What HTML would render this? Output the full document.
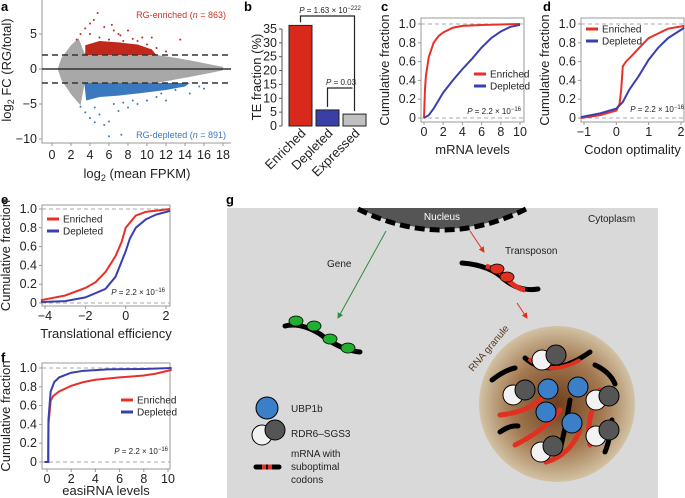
<!DOCTYPE html>
<html><head><meta charset="utf-8">
<style>
html,body{margin:0;padding:0;background:#fff;}
svg{display:block;font-family:"Liberation Sans",Arial,sans-serif;}
.t{font-size:12.5px;fill:#222;}
.ti{font-size:13px;fill:#222;}
.pl{font-size:13px;font-weight:bold;fill:#000;}
</style></head>
<body>
<svg id="fig" width="685" height="498" viewBox="0 0 685 498">
<text class="pl" x="1" y="11">a</text>
<text class="pl" x="244" y="11">b</text>
<text class="pl" x="381" y="11">c</text>
<text class="pl" x="543" y="11">d</text>
<text class="pl" x="1" y="204">e</text>
<text class="pl" x="1" y="362">f</text>
<text class="pl" x="226" y="204">g</text>
<g id="ga"></g>
<g id="gb"></g>
<g id="gc"></g>
<g id="gd"></g>
<g id="ge"></g>
<g id="gf"></g>

<g>
 <defs>
  <radialGradient id="gran" cx="0.5" cy="0.5" r="0.5">
   <stop offset="0" stop-color="#6e3f1c"/><stop offset="0.6" stop-color="#a47a52"/><stop offset="1" stop-color="#d2c2a4"/>
  </radialGradient>
  <marker id="ag" markerWidth="6" markerHeight="6" refX="5" refY="3" orient="auto"><path d="M0,0 L6,3 L0,6 z" fill="#2e8b40"/></marker>
  <marker id="ar" markerWidth="6" markerHeight="6" refX="5" refY="3" orient="auto"><path d="M0,0 L6,3 L0,6 z" fill="#e03020"/></marker>
 </defs>
 <rect x="227" y="208" width="431" height="290" fill="#d9d9d9"/>
 <path d="M358,208 Q442,250 526,208 Z" fill="#555"/>
 <path d="M358,209 Q442,251 526,209" fill="none" stroke="#000" stroke-width="5" stroke-dasharray="10,5"/>
 <text x="442" y="220" text-anchor="middle" style="font-size:10px;fill:#fff">Nucleus</text>
 <text x="588" y="222" style="font-size:10px;fill:#222">Cytoplasm</text>
 <text x="327" y="267" style="font-size:10px;fill:#222">Gene</text>
 <text x="505" y="254" style="font-size:10px;fill:#222">Transposon</text>
 <line x1="386" y1="231" x2="338" y2="318" stroke="#2e8b40" stroke-width="1" marker-end="url(#ag)"/>
 <line x1="470" y1="231" x2="484" y2="252" stroke="#e03020" stroke-width="1" marker-end="url(#ar)"/>
 <line x1="517" y1="303" x2="527" y2="318" stroke="#e03020" stroke-width="1" marker-end="url(#ar)"/>
 <g>
  <path d="M285,326 Q300,322 320,334 Q340,350 360,352" fill="none" stroke="#000" stroke-width="5" stroke-linecap="round"/>
  <ellipse cx="296" cy="321" rx="7" ry="5" fill="#20b030" stroke="#000" stroke-width="0.8"/>
  <ellipse cx="314" cy="326" rx="7" ry="5" fill="#20b030" stroke="#000" stroke-width="0.8"/>
  <ellipse cx="330" cy="339" rx="7" ry="5" fill="#20b030" stroke="#000" stroke-width="0.8"/>
  <ellipse cx="348" cy="348" rx="7" ry="5" fill="#20b030" stroke="#000" stroke-width="0.8"/>
 </g>
 <g>
  <path d="M462,263 Q490,265 505,280 Q520,292 538,289" fill="none" stroke="#000" stroke-width="5" stroke-linecap="round"/>
  <path d="M486,266 Q500,270 510,282 Q518,289 525,290" fill="none" stroke="#e03020" stroke-width="5"/>
  <ellipse cx="497" cy="269" rx="7" ry="5" fill="#e03020" stroke="#000" stroke-width="0.8"/>
  <ellipse cx="507" cy="277" rx="7" ry="5" fill="#e03020" stroke="#000" stroke-width="0.8"/>
 </g>
 <circle cx="557" cy="404" r="78" fill="url(#gran)"/>
 <text x="0" y="0" transform="translate(473,372) rotate(-50)" style="font-size:10px;fill:#5a3a20">RNA granule</text>
 <g stroke-linecap="round">
  <path d="M525,358 Q550,380 590,352" fill="none" stroke="#000" stroke-width="5"/>
  <path d="M530,360 Q550,376 580,360" fill="none" stroke="#e03020" stroke-width="4" stroke-dasharray="8,3"/>
  <path d="M492,380 Q505,370 515,368" fill="none" stroke="#000" stroke-width="5"/>
  <path d="M595,365 Q610,372 615,384" fill="none" stroke="#000" stroke-width="5"/>
  <path d="M500,432 Q510,425 518,426" fill="none" stroke="#000" stroke-width="5"/>
  <path d="M500,415 Q530,412 545,395" fill="none" stroke="#e03020" stroke-width="5" stroke-dasharray="8,3"/>
  <path d="M515,445 Q545,430 560,410" fill="none" stroke="#e03020" stroke-width="5" stroke-dasharray="8,3"/>
  <path d="M570,400 Q565,430 560,450" fill="none" stroke="#000" stroke-width="5"/>
  <path d="M600,390 Q585,420 590,445" fill="none" stroke="#e03020" stroke-width="5" stroke-dasharray="8,3"/>
  <path d="M546,462 Q570,455 580,430" fill="none" stroke="#e03020" stroke-width="5" stroke-dasharray="8,3"/>
  <path d="M612,420 Q610,440 605,452" fill="none" stroke="#000" stroke-width="5"/>
  <circle cx="542" cy="360" r="10" fill="#f2f2f2" stroke="#000"/><circle cx="556" cy="355" r="10" fill="#555" stroke="#000"/>
  <circle cx="513" cy="395" r="10" fill="#f2f2f2" stroke="#000"/><circle cx="525" cy="390" r="10" fill="#555" stroke="#000"/>
  <circle cx="596" cy="400" r="10" fill="#f2f2f2" stroke="#000"/><circle cx="609" cy="396" r="10" fill="#555" stroke="#000"/>
  <circle cx="596" cy="436" r="10" fill="#f2f2f2" stroke="#000"/><circle cx="609" cy="430" r="10" fill="#555" stroke="#000"/>
  <circle cx="541" cy="452" r="10" fill="#f2f2f2" stroke="#000"/><circle cx="553" cy="446" r="10" fill="#555" stroke="#000"/>
  <circle cx="548" cy="389" r="10" fill="#3a7fc8" stroke="#000"/>
  <circle cx="578" cy="387" r="10" fill="#3a7fc8" stroke="#000"/>
  <circle cx="546" cy="412" r="10" fill="#3a7fc8" stroke="#000"/>
  <circle cx="572" cy="423" r="10" fill="#3a7fc8" stroke="#000"/>
 </g>
 <g>
  <circle cx="267" cy="408" r="11" fill="#3a7fc8" stroke="#000"/>
  <text x="291" y="412" style="font-size:10px;fill:#222">UBP1b</text>
  <circle cx="262" cy="435" r="10" fill="#f2f2f2" stroke="#000"/><circle cx="275" cy="430" r="10" fill="#555" stroke="#000"/>
  <text x="291" y="437" style="font-size:10px;fill:#222">RDR6–SGS3</text>
  <path d="M256,467 L279,467" stroke="#000" stroke-width="5" stroke-linecap="round"/>
  <path d="M262,467 L274,467" stroke="#e03020" stroke-width="5" stroke-dasharray="4,2"/>
  <text style="font-size:10px;fill:#222"><tspan x="291" y="457">mRNA with</tspan><tspan x="291" y="470">suboptimal</tspan><tspan x="291" y="483">codons</tspan></text>
 </g>
</g>
</svg>
<script>
// ---------- Panel a data ----------
const maUpperEnvelope = [[0.6,0],[1,1.6],[2,3.4],[2.8,4.4],[3.4,2.3],[6,2.1],[11,2],[13,1.6],[15,1.1],[16.5,0.7],[18,0.3]];
const maLowerEnvelope = [[0.6,0],[1,-1.6],[2,-3.6],[3,-5.2],[3.4,-2.3],[6,-2.1],[11,-2],[13,-1.5],[15,-1],[16.5,-0.6],[18,-0.2]];
const maRedDense = [[3.5,2],[3.5,3.4],[5,4],[7,3.8],[9,3.5],[10.5,2.8],[11,2]];
const maBlueDense = [[3.4,-2],[3.6,-4.5],[5,-4],[7,-3.8],[9,-3.5],[12,-3],[14,-2.5],[14.5,-2]];
const maRedPoints = [[4.8,8],[4.4,7],[5.5,6],[6.3,6.3],[7,5],[8,5.5],[9.5,4.5],[10.5,4.5],[13.5,4.2],[5,4.5],[6,4.2],[7.5,4],[8.5,4.3],[9,4],[11,3],[12,2.5],[4,5],[6.5,5.5],[7.2,4.8],[10,3.5],[2.6,4.2],[3,5],[3.5,5.8],[4,6.5]];
const maBluePoints = [[6,-9.6],[7.3,-9.4],[5.5,-8],[6,-7.5],[7,-6],[8,-5.5],[9,-5],[10,-4.5],[11,-4],[12,-4.5],[13,-3],[14.5,-3.5],[15.5,-2.5],[16,-2.8],[5,-6.5],[6.5,-5],[8.5,-4.5],[4.5,-5.5],[7.5,-4.8],[11.5,-3.5],[3,-5.4],[3.5,-6.2],[4,-7],[4.5,-7.6]];
const maXTicks = [0,2,4,6,8,10,12,14,16,18];
const maYTicks = [5,0,-5,-10];
// ---------- Panel b data ----------
const teCategories = ["Enriched","Depleted","Expressed"];
const teValues = [36.3,5.8,4.3];
const teTicks = [0,5,10,15,20,25,30,35];
// ---------- Panel c ----------
const cEnriched = [[0,0],[0.1,0.3],[0.2,0.45],[0.5,0.65],[1,0.8],[1.5,0.87],[2,0.91],[3,0.96],[4,0.98],[6,0.99],[10,1.0]];
const cDepleted = [[0,0],[0.5,0.03],[1,0.1],[2,0.27],[3,0.4],[4,0.52],[5,0.63],[6,0.75],[7,0.85],[8,0.92],[9,0.97],[10,0.99]];
const cXTicks = [0,2,4,6,8,10];
// ---------- Panel d ----------
const dEnriched = [[-1.1,0],[-0.5,0.03],[0,0.08],[0.1,0.15],[0.15,0.3],[0.2,0.55],[0.3,0.6],[0.5,0.67],[0.8,0.78],[1.0,0.85],[1.3,0.9],[1.6,0.95],[2.1,0.98]];
const dDepleted = [[-1.1,0.01],[-0.5,0.05],[0,0.1],[0.2,0.17],[0.4,0.3],[0.7,0.45],[1.0,0.62],[1.3,0.75],[1.6,0.85],[2.1,0.96]];
const dXTicks = [-1,0,1,2];
// ---------- Panel e ----------
const eEnriched = [[-4.2,0.03],[-3,0.08],[-2,0.16],[-1.5,0.22],[-1,0.33],[-0.5,0.5],[-0.2,0.65],[0,0.8],[0.5,0.93],[1,0.97],[2.2,1.0]];
const eDepleted = [[-4.2,0.01],[-3,0.02],[-2,0.06],[-1,0.15],[-0.5,0.28],[0,0.55],[0.2,0.68],[0.5,0.8],[1,0.89],[1.5,0.94],[2.2,0.98]];
const eXTicks = [-4,-2,0,2];
// ---------- Panel f ----------
const fEnriched = [[-0.2,0],[0.1,0],[0.12,0.4],[0.3,0.65],[0.5,0.7],[1,0.75],[2,0.81],[3,0.85],[4,0.875],[6,0.9],[8,0.92],[9,0.94],[10.3,0.98]];
const fDepleted = [[-0.2,0],[0.1,0],[0.12,0.45],[0.3,0.75],[0.6,0.85],[1,0.9],[2,0.95],[3,0.97],[5,0.985],[8,0.99],[10.3,1.0]];
const fXTicks = [0,2,4,6,8,10];
const cdfYTicks = [0,0.2,0.4,0.6,0.8,1.0];

const NS="http://www.w3.org/2000/svg";
function mk(parent,tag,attrs,text){const e=document.createElementNS(NS,tag);for(const k in attrs)e.setAttribute(k,attrs[k]);if(text!==undefined)e.textContent=text;parent.appendChild(e);return e;}
function lin(d0,d1,r0,r1){return v=>r0+(v-d0)/(d1-d0)*(r1-r0);}

// ---------- Panel a ----------
(function(){
 const g=document.getElementById('ga');
 const X=lin(0,18,52,223), Y=lin(0,5,69,34);
 const box=mk(g,'path',{d:'M42,0 L42,143 L231,143',fill:'none',stroke:'#999','stroke-width':1});
 
 
 const env=maUpperEnvelope.map(p=>X(p[0])+','+Y(p[1])).concat(maLowerEnvelope.slice().reverse().map(p=>X(p[0])+','+Y(p[1])));
 const cloud=mk(g,'polygon',{points:env.join(' '),fill:'#a8a8a8'});
 
 
 const rd=mk(g,'polygon',{points:maRedDense.map(p=>X(p[0])+','+Y(p[1])).join(' '),fill:'#c0281c'});
 
 
 const bd=mk(g,'polygon',{points:maBlueDense.map(p=>X(p[0])+','+Y(p[1])).join(' '),fill:'#3a78c0'});
 
 
 maRedPoints.forEach(p=>{const c=mk(g,'circle',{cx:X(p[0]),cy:Y(p[1]),r:1,fill:'#c0281c'});
  
  });
 maBluePoints.forEach(p=>{const c=mk(g,'circle',{cx:X(p[0]),cy:Y(p[1]),r:1,fill:'#3a78c0'});
  
  });
 mk(g,'line',{x1:42,x2:231,y1:Y(0),y2:Y(0),stroke:'#333','stroke-width':1.5});
 mk(g,'line',{x1:42,x2:231,y1:Y(2),y2:Y(2),stroke:'#333','stroke-width':1.5,'stroke-dasharray':'6,4'});
 mk(g,'line',{x1:42,x2:231,y1:Y(-2),y2:Y(-2),stroke:'#333','stroke-width':1.5,'stroke-dasharray':'6,4'});
 maXTicks.forEach(v=>{mk(g,'line',{x1:X(v),x2:X(v),y1:143,y2:146,stroke:'#999'});
  const t=mk(g,'text',{x:X(v),y:159,'text-anchor':'middle',class:'t'},String(v));
  
  });
 maYTicks.forEach(v=>{mk(g,'line',{x1:39,x2:42,y1:Y(v),y2:Y(v),stroke:'#999'});
  const t=mk(g,'text',{x:37,y:Y(v)+4,'text-anchor':'end',class:'t'},v<0?'\u2212'+(-v):String(v));
  
  });
 const xt=mk(g,'text',{x:137,y:178,'text-anchor':'middle',class:'ti'});
 xt.innerHTML='log<tspan dy="3" font-size="9">2</tspan><tspan dy="-3"> (mean FPKM)</tspan>';
 
 
 const yt=mk(g,'text',{transform:'translate(11,70) rotate(-90)','text-anchor':'middle',class:'ti'});
 yt.innerHTML='log<tspan dy="3" font-size="9">2</tspan><tspan dy="-3"> FC (RG/total)</tspan>';
 
 
 const l1=mk(g,'text',{x:226,y:18,'text-anchor':'end',style:'font-size:9px;fill:#d03020'});
 l1.innerHTML='RG-enriched (<tspan font-style="italic">n</tspan> = 863)';
 
 
 const l2=mk(g,'text',{x:226,y:138,'text-anchor':'end',style:'font-size:9px;fill:#3a78c0'});
 l2.innerHTML='RG-depleted (<tspan font-style="italic">n</tspan> = 891)';
 
 
})();

// ---------- Panel b ----------
(function(){
 const g=document.getElementById('gb');
 const Y=lin(0,35,126,29);
 const colors=['#d9281c','#3a3fa8','#c0c0c0'];
 const xs=[289,316,343], w=23;
 mk(g,'line',{x1:282,x2:282,y1:Y(0),y2:Y(35),stroke:'#555'});
 teTicks.forEach(v=>{mk(g,'line',{x1:279,x2:282,y1:Y(v),y2:Y(v),stroke:'#555'});
  const t=mk(g,'text',{x:277,y:Y(v)+4,'text-anchor':'end',class:'t'},String(v));
  
  });
 teValues.forEach((v,i)=>{const r=mk(g,'rect',{x:xs[i],y:Y(v),width:w,height:Y(0)-Y(v),fill:colors[i],stroke:'#222','stroke-width':1});
  
  
  const t=mk(g,'text',{transform:`translate(${xs[i]+w/2+6},${Y(0)+8}) rotate(-45)`,'text-anchor':'end',class:'ti'},teCategories[i]);
  
  });
 mk(g,'path',{d:`M${xs[0]+w/2},${Y(teValues[0])-3} V16 H${xs[2]+w/2} V${Y(teValues[2])-3}`,fill:'none',stroke:'#222','stroke-width':1.2});
 mk(g,'path',{d:`M${xs[1]+w/2},${Y(teValues[1])-3} V88 H${xs[2]+w/2-2}`,fill:'none',stroke:'#222','stroke-width':1.2});
 const p1=mk(g,'text',{x:330,y:13,'text-anchor':'middle',style:'font-size:8px;fill:#222'});
 p1.innerHTML='<tspan font-style="italic">P</tspan> = 1.63 × 10<tspan dy="-3" font-size="6">−222</tspan>';
 
 
 const p2=mk(g,'text',{x:341,y:85,'text-anchor':'middle',style:'font-size:8px;fill:#222'});
 p2.innerHTML='<tspan font-style="italic">P</tspan> = 0.03';
 
 
 const yt=mk(g,'text',{transform:'translate(261,77) rotate(-90)','text-anchor':'middle',class:'ti'},'TE fraction (%)');
 
 
})();

// ---------- CDF panels ----------
function cdf(id,box,xd,xr,yr,xt,en,de,xTitle,legPos,pPos,pfx,titleOff){
 const g=document.getElementById(id);
 const X=lin(xd[0],xd[1],xr[0],xr[1]), Y=lin(0,1,yr[0],yr[1]);
 const fr=mk(g,'rect',{x:box[0],y:box[1],width:box[2]-box[0],height:box[3]-box[1],fill:'none',stroke:'#999'});
 
 
 [0,1].forEach(v=>mk(g,'line',{x1:box[0],x2:box[2],y1:Y(v),y2:Y(v),stroke:'#aaa','stroke-dasharray':'4,3'}));
 xt.forEach(v=>{mk(g,'line',{x1:X(v),x2:X(v),y1:box[3],y2:box[3]+3,stroke:'#999'});
  const t=mk(g,'text',{x:X(v),y:box[3]+14,'text-anchor':'middle',class:'t'},v<0?'\u2212'+(-v):String(v));
  
  });
 cdfYTicks.forEach(v=>{mk(g,'line',{x1:box[0]-3,x2:box[0],y1:Y(v),y2:Y(v),stroke:'#999'});
  const t=mk(g,'text',{x:box[0]-5,y:Y(v)+4,'text-anchor':'end',class:'t'},v===0?'0':v.toFixed(1));
  
  });
 const pe=mk(g,'polyline',{points:en.map(p=>X(p[0])+','+Y(p[1])).join(' '),fill:'none',stroke:'#e8302a','stroke-width':2});
 
 
 const pd=mk(g,'polyline',{points:de.map(p=>X(p[0])+','+Y(p[1])).join(' '),fill:'none',stroke:'#3a3fb0','stroke-width':2});
 
 
 [['Enriched','#e8302a',0],['Depleted','#3a3fb0',12]].forEach(l=>{
  mk(g,'line',{x1:legPos[0],x2:legPos[0]+12,y1:legPos[1]+l[2],y2:legPos[1]+l[2],stroke:l[1],'stroke-width':3});
  const t=mk(g,'text',{x:legPos[0]+16,y:legPos[1]+l[2]+3.5,style:'font-size:10px;fill:#222'},l[0]);
  
  });
 const p=mk(g,'text',{x:pPos[0],y:pPos[1],'text-anchor':'end',style:'font-size:8px;fill:#222'});
 p.innerHTML='<tspan font-style="italic">P</tspan> = 2.2 × 10<tspan dy="-3" font-size="6">−16</tspan>';
 
 
 const x=mk(g,'text',{x:(box[0]+box[2])/2,y:box[3]+titleOff,'text-anchor':'middle',class:'ti'},xTitle);
 
 
 const y=mk(g,'text',{transform:`translate(${box[0]-32},${(box[1]+box[3])/2}) rotate(-90)`,'text-anchor':'middle',class:'ti'},'Cumulative fraction');
 
 
}
cdf('gc',[421,18,524,122],[0,10],[424,520],[118,24],cXTicks,cEnriched,cDepleted,'mRNA levels',[474,74],[521,114],'c',32);
cdf('gd',[581,18,684,122],[-1,2],[584,681],[118,24],dXTicks,dEnriched,dDepleted,'Codon optimality',[586,29],[684,112],'d',32);
cdf('ge',[42,205,170,306],[-4,2],[45,166],[303,209],eXTicks,eEnriched,eDepleted,'Translational efficiency',[47,219],[165,295],'e',32);
cdf('gf',[42,363,170,469],[0,10],[47,168],[462,368],fXTicks,fEnriched,fDepleted,'easiRNA levels',[121,400],[168,454],'f',26);
</script>
</body></html>
